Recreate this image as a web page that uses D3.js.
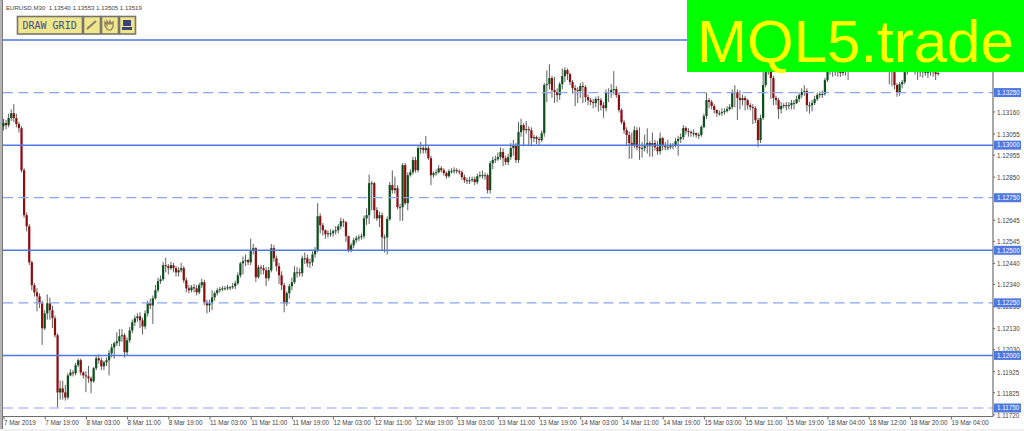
<!DOCTYPE html>
<html>
<head>
<meta charset="utf-8">
<script src="https://cdn.jsdelivr.net/npm/d3@7"></script>
<style>
html, body { margin: 0; padding: 0; background: #fff; overflow: hidden; }
svg { display: block; font-family: "Liberation Sans", sans-serif; }
</style>
</head>
<body>
<div class="chart"></div>
<script>
// EURUSD M30 candles, prices in 1/100000 (113000 = 1.13000)
var opens = [
113090,113105,113095,113129,113152,113129,113100,113081,112881,112667,
112614,112443,112334,112300,112281,112248,112129,112200,112248,112215,
112177,112096,111824,111843,111824,111800,111905,111919,111915,111953,
111977,111919,111905,111900,111891,111877,111939,111986,111977,111948,
111967,111977,112010,112038,112058,112067,112091,112096,112015,112072,
112119,112157,112177,112186,112167,112138,112200,112248,112238,112272,
112310,112353,112362,112429,112424,112415,112429,112415,112395,112405,
112415,112357,112319,112310,112324,112319,112300,112334,112348,112253,
112238,112248,112276,112296,112310,112315,112319,112319,112324,112324,
112329,112343,112381,112438,112448,112453,112443,112500,112510,112372,
112419,112415,112405,112367,112405,112510,112462,112424,112381,112334,
112248,112296,112329,112348,112395,112395,112391,112462,112462,112438,
112443,112481,112500,112662,112619,112595,112576,112581,112581,112591,
112595,112614,112638,112633,112567,112500,112524,112548,112557,112562,
112567,112652,112667,112819,112819,112691,112652,112667,112562,112562,
112648,112810,112786,112795,112705,112705,112905,112724,112857,112871,
112929,112881,112986,112986,112976,112986,112938,112857,112867,112871,
112890,112881,112867,112852,112876,112876,112881,112876,112871,112848,
112833,112829,112833,112838,112824,112852,112857,112857,112857,112786,
112914,112929,112933,112943,112967,112938,112919,112943,112986,113000,
112929,113062,113095,113071,113076,113071,113033,113038,113029,113024,
113057,113286,113290,113319,113262,113252,113238,113290,113328,113357,
113338,113300,113271,113262,113257,113281,113276,113228,113214,113205,
113200,113219,113214,113190,113176,113248,113252,113262,113267,113238,
113167,113109,113071,113048,113010,113000,113071,112990,112986,112986,
112995,113010,112995,113010,112990,112971,113033,112995,112990,112990,
112995,113000,113019,113029,113038,113081,113067,113062,113057,113057,
113048,113048,113086,113138,113214,113205,113186,113167,113152,113152,
113157,113162,113171,113181,113248,113252,113224,113214,113224,113214,
113190,113181,113176,113119,113024,113129,113286,113347,113381,113319,
113224,113214,113171,113186,113190,113186,113190,113200,113200,113219,
113238,113252,113257,113190,113190,113200,113219,113238,113243,113243,
113309,113357,113357,113352,113347,113352,113343,113357,113367,113381,
113395,113405,113414,113424,113429,113414,113429,113443,113429,113419,
113433,113414,113395,113405,113381,113367,113347,113286,113248,113290,
113300,113347,113405,113414,113395,113367,113347,113357,113347,113347,
113347,113352,113347,113338];
var highs = [
113125,113120,113150,113170,113195,113150,113110,113090,112890,112680,
112625,112450,112345,112320,112295,112260,112215,112290,112275,112235,
112190,112105,111880,111880,111860,111915,111935,111930,111965,111985,
111985,111925,111925,111950,111900,111945,112000,112005,111990,111975,
111990,112025,112055,112065,112110,112125,112125,112105,112085,112135,
112170,112190,112200,112205,112180,112215,112260,112270,112285,112335,
112370,112380,112445,112465,112435,112445,112440,112425,112420,112440,
112425,112370,112335,112335,112340,112335,112345,112365,112360,112265,
112265,112310,112305,112320,112325,112330,112330,112335,112330,112345,
112355,112395,112445,112470,112480,112460,112555,112530,112515,112430,
112430,112430,112420,112420,112530,112525,112475,112440,112400,112345,
112305,112340,112370,112425,112420,112415,112475,112490,112480,112460,
112495,112515,112724,112675,112630,112600,112595,112600,112600,112615,
112625,112655,112650,112640,112570,112535,112560,112570,112575,112580,
112665,112700,112860,112830,112825,112705,112685,112680,112575,112660,
112825,112880,112850,112810,112720,112915,112915,112870,112885,112945,
112945,113000,113015,113000,113043,112995,112950,112875,112885,112905,
112900,112890,112875,112885,112890,112895,112890,112885,112880,112860,
112845,112850,112850,112850,112865,112875,112880,112870,112865,112925,
112945,112950,112965,112990,112985,112950,112960,113010,113025,113010,
113110,113125,113105,113115,113090,113085,113050,113045,113040,113070,
113295,113355,113385,113330,113325,113270,113300,113365,113370,113365,
113345,113310,113285,113275,113295,113300,113285,113240,113225,113220,
113230,113235,113225,113205,113265,113270,113290,113352,113280,113250,
113175,113120,113085,113065,113060,113090,113085,113085,113015,113050,
113080,113020,113060,113025,113020,113060,113040,113015,113025,113010,
113010,113035,113045,113055,113095,113090,113080,113070,113075,113060,
113060,113095,113150,113250,113225,113215,113195,113170,113165,113175,
113175,113185,113195,113265,113285,113265,113260,113240,113235,113220,
113200,113195,113185,113130,113145,113360,113370,113400,113395,113330,
113235,113225,113205,113200,113205,113205,113215,113215,113235,113250,
113270,113285,113270,113205,113215,113235,113250,113255,113260,113320,
113370,113375,113370,113360,113365,113360,113370,113380,113395,113410,
113420,113430,113440,113445,113445,113445,113460,113460,113445,113450,
113445,113430,113420,113415,113395,113375,113350,113295,113300,113310,
113360,113415,113430,113425,113400,113380,113370,113365,113360,113365,
113365,113365,113355,113350];
var lows = [
113070,113075,113085,113115,113110,113085,113060,112870,112655,112590,
112430,112310,112280,112210,112225,112050,112120,112170,112170,112130,
112085,111753,111790,111790,111785,111790,111900,111900,111905,111945,
111905,111890,111825,111870,111820,111870,111930,111960,111930,111930,
111950,111905,111990,111985,112045,112045,112065,111990,112000,112060,
112105,112140,112160,112130,112100,112125,112185,112220,112150,112265,
112300,112340,112355,112395,112385,112405,112395,112375,112375,112395,
112345,112300,112295,112300,112300,112285,112290,112320,112240,112200,
112205,112215,112260,112285,112300,112305,112310,112310,112310,112315,
112315,112335,112370,112385,112425,112430,112430,112480,112350,112365,
112385,112385,112330,112355,112395,112445,112400,112340,112310,112205,
112235,112270,112310,112340,112370,112375,112375,112435,112420,112415,
112425,112465,112490,112580,112570,112555,112560,112565,112565,112575,
112580,112600,112610,112540,112490,112490,112510,112535,112545,112550,
112555,112620,112625,112690,112650,112640,112610,112500,112490,112480,
112640,112770,112770,112695,112640,112640,112715,112690,112850,112860,
112870,112870,112960,112960,112960,112930,112810,112845,112855,112865,
112870,112855,112840,112845,112865,112865,112865,112860,112835,112820,
112815,112815,112825,112810,112815,112845,112840,112835,112770,112770,
112885,112915,112925,112930,112900,112905,112905,112930,112950,112915,
112915,113040,112995,113055,113000,112995,113015,113005,113000,113015,
113040,113205,113265,113225,113200,113205,113215,113265,113300,113310,
113285,113245,113185,113200,113225,113200,113205,113190,113190,113175,
113180,113160,113165,113130,113160,113205,113225,113240,113225,113155,
113100,113055,113000,112935,112935,112985,112975,112930,112940,112970,
112960,112945,112945,112975,112955,112955,112975,112975,112975,112980,
112980,112990,112950,113010,113025,113050,113040,113040,113040,113035,
113030,113040,113080,113125,113175,113170,113150,113135,113140,113140,
113145,113155,113165,113170,113180,113120,113170,113190,113165,113170,
113165,113100,113105,112990,113010,113120,113275,113335,113220,113190,
113190,113125,113150,113175,113165,113170,113170,113170,113195,113205,
113225,113235,113160,113150,113160,113190,113210,113225,113225,113235,
113300,113335,113325,113330,113325,113325,113330,113330,113310,113360,
113380,113390,113400,113410,113400,113400,113415,113415,113405,113405,
113395,113380,113385,113360,113290,113280,113265,113230,113235,113270,
113290,113335,113395,113385,113335,113310,113325,113320,113330,113320,
113330,113325,113310,113330];
var closes = [
113105,113095,113129,113152,113129,113100,113081,112881,112667,112614,
112443,112334,112300,112281,112248,112129,112200,112248,112215,112177,
112096,111824,111843,111824,111800,111905,111919,111915,111953,111977,
111919,111905,111900,111891,111877,111939,111986,111977,111948,111967,
111977,112010,112038,112058,112067,112091,112096,112015,112072,112119,
112157,112177,112186,112167,112138,112200,112248,112238,112272,112310,
112353,112362,112429,112424,112415,112429,112415,112395,112405,112415,
112357,112319,112310,112324,112319,112300,112334,112348,112253,112238,
112248,112276,112296,112310,112315,112319,112319,112324,112324,112329,
112343,112381,112438,112448,112453,112443,112500,112510,112372,112419,
112415,112405,112367,112405,112510,112462,112424,112381,112334,112248,
112296,112329,112348,112395,112395,112391,112462,112462,112438,112443,
112481,112500,112662,112619,112595,112576,112581,112581,112591,112595,
112614,112638,112633,112567,112500,112524,112548,112557,112562,112567,
112652,112667,112819,112819,112691,112652,112667,112562,112562,112648,
112810,112786,112795,112705,112705,112905,112724,112857,112871,112929,
112881,112986,112986,112976,112986,112938,112857,112867,112871,112890,
112881,112867,112852,112876,112876,112881,112876,112871,112848,112833,
112829,112833,112838,112824,112852,112857,112857,112857,112786,112914,
112929,112933,112943,112967,112938,112919,112943,112986,113000,112929,
113062,113095,113071,113076,113071,113033,113038,113029,113024,113057,
113286,113290,113319,113262,113252,113238,113290,113328,113357,113338,
113300,113271,113262,113257,113281,113276,113228,113214,113205,113200,
113219,113214,113190,113176,113248,113252,113262,113267,113238,113167,
113109,113071,113048,113010,113000,113071,112990,112986,112986,112995,
113010,112995,113010,112990,112971,113033,112995,112990,112990,112995,
113000,113019,113029,113038,113081,113067,113062,113057,113057,113048,
113048,113086,113138,113214,113205,113186,113167,113152,113152,113157,
113162,113171,113181,113248,113252,113224,113214,113224,113214,113190,
113181,113176,113119,113024,113129,113286,113347,113381,113319,113224,
113214,113171,113186,113190,113186,113190,113200,113200,113219,113238,
113252,113257,113190,113190,113200,113219,113238,113243,113243,113309,
113357,113357,113352,113347,113352,113343,113357,113367,113381,113395,
113405,113414,113424,113429,113414,113429,113443,113429,113419,113433,
113414,113395,113405,113381,113367,113347,113286,113248,113290,113300,
113347,113405,113414,113395,113367,113347,113357,113347,113347,113347,
113352,113347,113338,113343];

var time_labels = ["7 Mar 2019", "7 Mar 19:00", "8 Mar 03:00", "8 Mar 11:00", "8 Mar 19:00", "11 Mar 03:00",
    "11 Mar 11:00", "11 Mar 19:00", "12 Mar 03:00", "12 Mar 11:00", "12 Mar 19:00", "13 Mar 03:00",
    "13 Mar 11:00", "13 Mar 19:00", "14 Mar 03:00", "14 Mar 11:00", "14 Mar 19:00", "15 Mar 03:00",
    "15 Mar 11:00", "15 Mar 19:00", "18 Mar 04:00", "18 Mar 12:00", "18 Mar 20:00", "19 Mar 04:00"];
var time_ticks = time_labels.map(function(d, i) { return i * 16; });

var price_ticks = [113160, 113055, 112955, 112850, 112645, 112545, 112440, 112340, 112235, 112130, 112030, 111925, 111825, 111720];
var solid_levels = [113500, 113000, 112500, 112000];
var dashed_levels = [113250, 112750, 112250, 111750];
// the 1.13500 tag sits under the banner in the original, so it is left out
var tagged_levels = [113250, 113000, 112750, 112500, 112250, 112000, 111750];

var title_text = "EURUSD,M30  1.13540 1.13553 1.13505 1.13519";
var banner_text = "MQL5.trade";

var width = 1024, height = 431;
var plot_right = 993, plot_bottom = 416.5;
var axis_font = '"Liberation Sans", sans-serif';
var small_text = 6.3;

var svg = d3.select('.chart')
    .append('svg')
        .attr('width', width)
        .attr('height', height);

svg.append('defs').append('filter')
        .attr('id', 'soft')
        .attr('x', '-5%').attr('y', '-5%').attr('width', '110%').attr('height', '110%')
    .append('feGaussianBlur')
        .attr('stdDeviation', 0.45);

var x_scale = d3.scaleLinear()
    .domain([0, 16])
    .range([3.5, 44.7]);

var y_scale = d3.scaleLinear()
    .domain([111750, 113500])
    .range([408, 40]);

// window frame
svg.append('rect').attr('x', 0).attr('y', 0).attr('width', 2).attr('height', height).attr('fill', '#b5b5b5');
svg.append('rect').attr('x', 2).attr('y', 0).attr('width', 1).attr('height', height).attr('fill', '#777');
svg.append('rect').attr('x', 0).attr('y', 429).attr('width', width).attr('height', 2).attr('fill', '#f0f0f0');

// candles
var candles = svg.append('g').attr('filter', 'url(#soft)');

candles.selectAll('line')
    .data(closes)
    .enter()
        .append('line')
        .attr('x1', function(d, i) { return x_scale(i); })
        .attr('x2', function(d, i) { return x_scale(i); })
        .attr('y1', function(d, i) { return y_scale(highs[i]); })
        .attr('y2', function(d, i) { return y_scale(lows[i]); })
        .attr('stroke', '#606060')
        .attr('stroke-width', 1);

candles.selectAll('rect')
    .data(closes)
    .enter()
        .append('rect')
        .attr('x', function(d, i) { return x_scale(i) - 1.1; })
        .attr('width', 2.2)
        .attr('y', function(d, i) { return y_scale(Math.max(d, opens[i])); })
        .attr('height', function(d, i) { return Math.max(1, Math.abs(y_scale(d) - y_scale(opens[i]))); })
        .attr('fill', function(d, i) { return d >= opens[i] ? '#07501a' : '#8c0a0e'; });

// horizontal levels
svg.selectAll('.solid-level')
    .data(solid_levels)
    .enter()
        .append('line')
        .attr('class', 'solid-level')
        .attr('x1', 3).attr('x2', plot_right)
        .attr('y1', function(d) { return y_scale(d); })
        .attr('y2', function(d) { return y_scale(d); })
        .attr('stroke', '#4f78e0')
        .attr('stroke-width', 1.5);

svg.selectAll('.dashed-level')
    .data(dashed_levels)
    .enter()
        .append('line')
        .attr('class', 'dashed-level')
        .attr('x1', 3).attr('x2', plot_right)
        .attr('y1', function(d) { return y_scale(d); })
        .attr('y2', function(d) { return y_scale(d); })
        .attr('stroke', '#8ba6ee')
        .attr('stroke-width', 1.2)
        .attr('stroke-dasharray', '10 5.4');

// axes
var y_axis = d3.axisRight(y_scale)
    .tickValues(price_ticks)
    .tickSize(2)
    .tickPadding(2)
    .tickFormat(function(d) { return (d / 100000).toFixed(5); });

var y_group = svg.append('g')
    .attr('font-family', axis_font)
    .attr('transform', 'translate(' + plot_right + ',0)')
    .call(y_axis);

var x_axis = d3.axisBottom(x_scale)
    .tickValues(time_ticks)
    .tickSize(3)
    .tickPadding(1)
    .tickFormat(function(d, i) { return time_labels[i]; });

var x_group = svg.append('g')
    .attr('font-family', axis_font)
    .attr('transform', 'translate(0,' + plot_bottom + ')')
    .call(x_axis);

y_group.selectAll('.domain').remove();
x_group.selectAll('.domain').remove();
x_group.selectAll('text').attr('text-anchor', 'start').attr('font-size', small_text).attr('fill', '#444');
y_group.selectAll('text').attr('font-size', small_text).attr('fill', '#444').attr('dy', '0.45em');
x_group.selectAll('line').attr('stroke', '#666');
y_group.selectAll('line').attr('stroke', '#666');

svg.append('line').attr('x1', plot_right).attr('x2', plot_right).attr('y1', 0).attr('y2', plot_bottom).attr('stroke', '#6e6e6e').attr('stroke-width', 1.2);
svg.append('line').attr('x1', 3).attr('x2', plot_right).attr('y1', plot_bottom).attr('y2', plot_bottom).attr('stroke', '#6e6e6e').attr('stroke-width', 1.2);

// price tags for the levels
var tags = svg.selectAll('.tag')
    .data(tagged_levels)
    .enter()
        .append('g')
        .attr('class', 'tag')
        .attr('transform', function(d) { return 'translate(' + (plot_right + 1) + ',' + y_scale(d) + ')'; });

tags.append('rect')
    .attr('x', 0).attr('y', -4.5)
    .attr('width', 27).attr('height', 9)
    .attr('fill', '#4f78e0');

tags.append('text')
    .attr('x', 3).attr('y', 2.3)
    .attr('font-size', small_text)
    .attr('fill', '#fff')
    .text(function(d) { return (d / 100000).toFixed(5); });

// title
svg.append('text')
    .attr('x', 6).attr('y', 10)
    .attr('font-size', 6.1)
    .attr('fill', '#444')
    .style('white-space', 'pre')
    .text(title_text);

// toolbar
var toolbar = svg.append('g').attr('transform', 'translate(17,16)');
var button_boxes = [[0, 65], [66, 17], [84, 17], [102, 16]];

toolbar.selectAll('rect')
    .data(button_boxes)
    .enter()
        .append('rect')
        .attr('x', function(d) { return d[0] + 0.5; })
        .attr('y', 0.5)
        .attr('width', function(d) { return d[1]; })
        .attr('height', 17.5)
        .attr('fill', '#f0e68c')
        .attr('stroke', '#77766e')
        .attr('stroke-width', 1.6);

toolbar.append('text')
    .attr('x', 5.5).attr('y', 12.6)
    .attr('font-family', '"DejaVu Sans Mono", monospace')
    .attr('font-size', 10)
    .attr('fill', '#3d4a8f')
    .text('DRAW GRID');

// pencil
toolbar.append('line').attr('x1', 70).attr('y1', 13).attr('x2', 79).attr('y2', 5).attr('stroke', '#8a7f6a').attr('stroke-width', 2);
// hand
toolbar.append('path').attr('d', 'M88 6 L90 9 L90 5 L92 8 L93 5 L94 8 L96 6 L96 11 L94 14 L91 14 L88 10 Z')
    .attr('fill', 'none').attr('stroke', '#85795f').attr('stroke-width', 1.2);
// calculator
toolbar.append('rect').attr('x', 106).attr('y', 4).attr('width', 8).attr('height', 6).attr('fill', '#3b4277');
toolbar.append('rect').attr('x', 105).attr('y', 11).attr('width', 10).attr('height', 3).attr('fill', '#3b4277');

// banner goes over everything
svg.append('rect')
    .attr('x', 687).attr('y', 0)
    .attr('width', width - 687).attr('height', 72)
    .attr('fill', '#00ff00');

svg.append('text')
    .attr('x', 697).attr('y', 62)
    .attr('font-size', 60)
    .attr('fill', '#ffff00')
    .text(banner_text);
</script>
</body>
</html>
